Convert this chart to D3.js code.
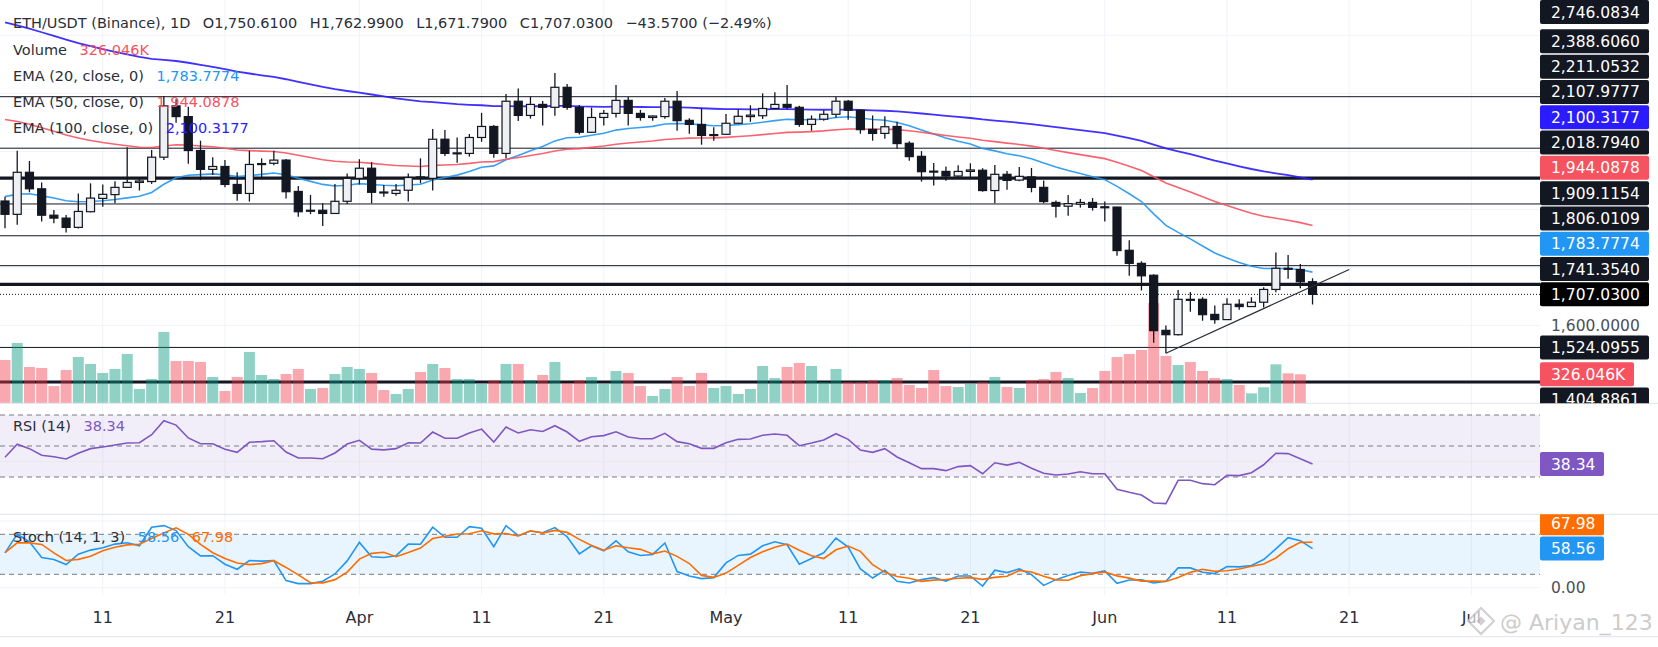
<!DOCTYPE html>
<html>
<head>
<meta charset="utf-8">
<script src="https://cdn.jsdelivr.net/npm/d3@7"></script>
<style>
  html, body { margin: 0; padding: 0; background: #fff; }
  svg { display: block; font-family: "DejaVu Sans", sans-serif; }
</style>
</head>
<body>
<div id="chart"></div>
<script>
// daily candles, first one on this day
const startDay = "2023-03-03";

const opens = [2029,1983,2128,2071,1980,1970,1938,1992,2038,2051,
  2076,2093,2096,2180,2357,2320,2203,2138,2148,2086,
  2055,2155,2159,2170,2062,1995,1997,1986,2028,2107,
  2142,2060,2055,2066,2112,2107,2242,2193,2193,2248,
  2286,2193,2373,2324,2362,2352,2421,2352,2266,2317,
  2331,2376,2331,2317,2320,2373,2307,2293,2255,2259,
  2297,2320,2323,2348,2362,2352,2293,2311,2328,2373,
  2342,2276,2262,2286,2228,2183,2132,2131,2115,2131,
  2135,2065,2121,2101,2112,2076,2024,2011,2018,2024,
  2009,2008,1859,1814,1773,1583,1568,1690,1690,1638,
  1620,1673,1665,1680,1724,1797,1793,1750.61];
const highs = [2044,2202,2167,2093,1998,1981,2055,2090,2086,2097,
  2214,2110,2205,2391,2380,2354,2237,2180,2170,2128,
  2202,2176,2202,2174,2081,2050,2021,2088,2124,2173,
  2163,2084,2088,2124,2176,2277,2274,2248,2260,2333,
  2291,2398,2417,2389,2374,2470,2432,2360,2351,2343,
  2429,2388,2343,2324,2384,2408,2314,2348,2283,2329,
  2345,2359,2400,2404,2429,2357,2324,2342,2388,2377,
  2345,2324,2321,2302,2235,2201,2160,2148,2152,2159,
  2142,2153,2132,2146,2143,2100,2031,2050,2036,2039,
  2027,2009,1894,1821,1776,1600,1722,1715,1697,1669,
  1694,1690,1697,1732,1851,1843,1812,1762.99];
const lows = [1935,1947,2059,1958,1952,1920,1934,1990,2009,2021,
  2075,2065,2088,2170,2299,2157,2101,2119,2076,2030,
  2027,2107,2152,2038,1975,1984,1943,1984,2019,2086,
  2021,2044,2047,2027,2090,2065,2184,2161,2182,2233,
  2178,2176,2305,2313,2289,2323,2344,2258,2265,2289,
  2317,2289,2306,2306,2313,2271,2261,2223,2237,2257,
  2295,2302,2312,2345,2345,2285,2271,2306,2316,2309,
  2261,2237,2244,2209,2168,2096,2082,2099,2105,2108,
  2061,2021,2068,2097,2059,2021,1972,1978,2006,1996,
  1958,1840,1771,1720,1540,1504,1565,1647,1616,1606,
  1619,1654,1664,1662,1714,1761,1728,1671.79];
const closes = [1983,2128,2071,1980,1970,1938,1993,2039,2052,2076,
  2093,2098,2180,2357,2320,2203,2138,2148,2086,2055,
  2155,2158,2170,2061,1992,1997,1986,2028,2107,2142,
  2059,2057,2066,2110,2110,2242,2193,2195,2248,2286,
  2193,2373,2324,2362,2352,2421,2352,2266,2317,2331,
  2376,2331,2317,2322,2373,2306,2293,2255,2258,2297,
  2321,2325,2348,2362,2352,2293,2311,2328,2373,2342,
  2275,2262,2285,2227,2182,2130,2130,2115,2131,2136,
  2065,2121,2100,2114,2076,2027,2011,2020,2024,2007,
  2008,1858,1814,1771,1582,1568,1690,1688,1637,1620,
  1673,1665,1680,1724,1797,1795,1750.6,1707.03];
// volume in thousands, the live bar has no column yet
const volumes = [487,678,408,397,194,374,520,442,341,386,
  554,161,273,801,475,475,464,296,138,296,
  577,318,273,329,386,161,172,329,408,386,
  341,149,105,161,352,442,397,273,273,217,
  262,442,442,262,318,464,228,262,296,217,
  363,341,194,82,161,296,194,341,172,194,
  105,161,419,284,408,453,419,239,386,239,
  239,262,262,284,206,172,374,194,183,217,
  239,296,183,172,262,273,352,284,116,172,
  363,520,554,599,1127,532,430,464,363,284,
  273,206,112,180,438,337,326,null];
const volumeLast = 326.046;

const rsiValues = [42.7,51.1,48.3,44.0,43.1,41.6,45.3,48.3,49.4,50.6,
  51.9,52.1,57.3,66.3,63.5,55.2,51.5,51.5,47.9,45.9,
  52.4,52.8,53.4,46.1,42.3,42.3,41.8,45.5,51.3,53.7,
  48.0,47.5,48.3,52.1,51.9,59.0,55.0,55.0,58.4,60.9,
  52.6,62.2,58.4,60.5,59.4,63.1,59.0,53.0,56.0,56.7,
  59.2,55.8,54.7,54.7,58.2,52.8,51.5,48.5,48.5,52.1,
  54.3,54.5,56.9,57.7,56.9,50.2,51.9,53.9,57.9,54.3,
  47.4,45.9,48.3,42.9,39.2,35.4,35.4,34.1,36.7,37.3,
  32.1,39.2,37.7,39.5,35.6,32.4,31.3,31.9,33.4,32.1,
  32.1,22.1,20.1,18.4,13.2,12.8,27.9,27.9,25.7,25.0,
  31.1,30.9,32.8,37.9,45.3,45.1,41.8,38.34];

const stochK = [52.2,80.4,68.8,45.3,42.2,34.7,50.2,56.3,59.8,65.3,
  67.3,62.8,90.6,93.0,85.5,61.3,47.7,47.9,35.1,27.6,
  40.7,39.7,40.7,10.5,6.0,6.0,9.5,20.5,40.1,67.9,
  46.2,45.3,47.9,65.3,65.0,90.6,75.5,75.5,91.5,89.1,
  61.3,93.0,77.9,85.0,82.4,90.0,76.4,50.7,62.8,55.2,
  70.3,53.7,48.3,49.8,66.9,24.1,17.5,13.5,15.0,37.1,
  48.3,50.2,62.8,68.8,64.3,35.1,43.7,52.2,74.4,60.8,
  28.1,14.4,26.1,9.5,6.9,12.0,15.0,9.9,17.5,17.5,
  2.4,26.1,22.6,28.1,19.6,3.4,12.0,18.1,23.5,21.5,
  25.0,6.4,11.4,11.6,6.9,9.5,29.6,29.6,23.1,21.1,
  31.7,31.2,33.2,42.2,58.2,74.9,70.47,58.56];
const stochDHead = [52.5, 67.3];

// EMA values on the first visible bar (history before it is not shown)
const emaPeriods = [20, 50, 100];
const emaStart = [2044, 2310, 2645];
const emaLast = [1783.7774, 1944.0878, 2100.3177];

const levels = [2746.0834, 2388.6060, 2211.0532, 2107.9777, 2018.7940,
  1909.1154, 1806.0109, 1741.3540, 1524.0955, 1404.8861];
const thickLevels = [2107.9777, 1741.3540, 1404.8861];
const trendBars = [95, 110];
const trendPrices = [1504, 1793];

const priceTicks = [1400, 1600, 1800, 2000, 2200, 2400, 2600];
const xTickDates = ["2023-03-11", "2023-03-21", "2023-04-01", "2023-04-11", "2023-04-21",
  "2023-05-01", "2023-05-11", "2023-05-21", "2023-06-01", "2023-06-11", "2023-06-21", "2023-07-01"];

// ---------------------------------------------------------------
const W = 1658, H = 647;
const plotRight = 1540;
const mainBottom = 403.3;
const rsiTop = 403.3, rsiBottom = 514.3;
const stochTop = 514.3, stochBottom = 595;
const axisLine = 636.7;

const emaColors = ["#2196F3", "#F7525F", "#2B1BFF"];
const dark = "#131722";

const parse = d3.utcParse("%Y-%m-%d");
const day0 = parse(startDay);
const dates = closes.map((d, i) => d3.utcDay.offset(day0, i));

const x = d3.scaleUtc()
  .domain([day0, d3.utcDay.offset(day0, 120)])
  .range([5, 5 + 120 * 12.22]);
const y = d3.scaleLinear().domain([1404.8861, 2388.6060]).range([382, 96.7]);
const yVol = d3.scaleLinear().domain([0, 1127]).range([mainBottom, mainBottom - 100.3]);
const yRsi = d3.scaleLinear().domain([30, 70]).range([477, 415]);
const yStoch = d3.scaleLinear().domain([20, 80]).range([574.3, 534.3]);

function ema(values, period, seed) {
  const k = 2 / (period + 1);
  const out = [seed];
  for (let i = 1; i < values.length; i++) {
    out.push(out[i - 1] + k * (values[i] - out[i - 1]));
  }
  return out;
}

const stochD = stochK.map((v, i) => i < 2 ? stochDHead[i] : (stochK[i - 2] + stochK[i - 1] + v) / 3);

const svg = d3.select("#chart").append("svg")
  .attr("width", W)
  .attr("height", H);

svg.append("rect").attr("width", W).attr("height", H).attr("fill", "#fff");

const defs = svg.append("defs");
defs.append("clipPath").attr("id", "clipMain")
  .append("rect").attr("x", 0).attr("y", 0).attr("width", plotRight).attr("height", mainBottom);
defs.append("clipPath").attr("id", "clipRsi")
  .append("rect").attr("x", 0).attr("y", rsiTop).attr("width", plotRight).attr("height", rsiBottom - rsiTop);
defs.append("clipPath").attr("id", "clipStoch")
  .append("rect").attr("x", 0).attr("y", stochTop).attr("width", plotRight).attr("height", stochBottom - stochTop);
defs.append("clipPath").attr("id", "clipAxisMain")
  .append("rect").attr("x", plotRight).attr("y", 0).attr("width", W - plotRight).attr("height", mainBottom);
defs.append("clipPath").attr("id", "clipAxisStoch")
  .append("rect").attr("x", plotRight).attr("y", stochTop).attr("width", W - plotRight).attr("height", stochBottom - stochTop);

// grid
const tickDates = xTickDates.map(parse);
svg.append("g")
  .selectAll("line")
  .data(tickDates)
  .enter()
  .append("line")
  .attr("x1", d => x(d)).attr("x2", d => x(d))
  .attr("y1", 0).attr("y2", stochBottom)
  .attr("stroke", "#f0f3fa");

svg.append("g")
  .attr("clip-path", "url(#clipMain)")
  .selectAll("line")
  .data(priceTicks)
  .enter()
  .append("line")
  .attr("x1", 0).attr("x2", plotRight)
  .attr("y1", d => y(d)).attr("y2", d => y(d))
  .attr("stroke", "#f0f3fa");

// ---------------- main pane ----------------
const main = svg.append("g").attr("clip-path", "url(#clipMain)");

main.append("g")
  .selectAll("line")
  .data(levels)
  .enter()
  .append("line")
  .attr("x1", 0).attr("x2", plotRight)
  .attr("y1", d => y(d)).attr("y2", d => y(d))
  .attr("stroke", dark)
  .attr("stroke-width", d => thickLevels.includes(d) ? 3.2 : 1);

const lastClose = closes[closes.length - 1];
main.append("line")
  .attr("x1", 0).attr("x2", plotRight)
  .attr("y1", y(lastClose)).attr("y2", y(lastClose))
  .attr("stroke", dark)
  .attr("stroke-dasharray", "1,2");

// volume columns
main.append("g")
  .selectAll("rect")
  .data(volumes.map((v, i) => ({v, i})).filter(d => d.v != null))
  .enter()
  .append("rect")
  .attr("x", d => x(dates[d.i]) - 5.5)
  .attr("width", 11)
  .attr("y", d => yVol(d.v))
  .attr("height", d => mainBottom - yVol(d.v))
  .attr("fill", d => closes[d.i] >= opens[d.i] ? "rgba(8,153,129,0.45)" : "rgba(242,54,69,0.43)");

// EMA lines
const line = d3.line().x((d, i) => x(dates[i])).y(d => y(d)).curve(d3.curveLinear);
emaPeriods.forEach((p, k) => {
  const vals = ema(closes, p, emaStart[k]);
  main.append("path")
    .attr("d", line(vals))
    .attr("fill", "none")
    .attr("stroke", emaColors[k])
    .attr("stroke-width", k === 2 ? 1.8 : 1.6)
    .attr("stroke-opacity", 0.9);
});

// candles
const candles = main.append("g")
  .selectAll("g")
  .data(closes.map((c, i) => ({o: opens[i], h: highs[i], l: lows[i], c, i})))
  .enter()
  .append("g");

candles.append("line")
  .attr("x1", d => x(dates[d.i])).attr("x2", d => x(dates[d.i]))
  .attr("y1", d => y(d.h)).attr("y2", d => y(d.l))
  .attr("stroke", dark)
  .attr("stroke-width", 1.3);

candles.append("rect")
  .attr("x", d => x(dates[d.i]) - 4)
  .attr("width", 8)
  .attr("y", d => y(Math.max(d.o, d.c)))
  .attr("height", d => Math.max(1, Math.abs(y(d.o) - y(d.c))))
  .attr("fill", d => d.c >= d.o ? "#eef0f4" : dark)
  .attr("stroke", dark)
  .attr("stroke-width", 1.2);

// trend line
main.append("line")
  .attr("x1", x(d3.utcDay.offset(day0, trendBars[0])))
  .attr("y1", y(trendPrices[0]))
  .attr("x2", x(d3.utcDay.offset(day0, trendBars[1])))
  .attr("y2", y(trendPrices[1]))
  .attr("stroke", "#2a2e39")
  .attr("stroke-width", 1.2);

// ---------------- RSI pane ----------------
const rsiG = svg.append("g").attr("clip-path", "url(#clipRsi)");
rsiG.append("rect")
  .attr("x", 0).attr("width", plotRight)
  .attr("y", yRsi(70)).attr("height", yRsi(30) - yRsi(70))
  .attr("fill", "rgba(126,87,194,0.1)");
rsiG.append("line")
  .attr("x1", 0).attr("x2", plotRight)
  .attr("y1", yRsi(40)).attr("y2", yRsi(40))
  .attr("stroke", "#e9e9f0");
rsiG.append("g")
  .selectAll("line")
  .data([70, 50, 30])
  .enter()
  .append("line")
  .attr("x1", 0).attr("x2", plotRight)
  .attr("y1", d => yRsi(d)).attr("y2", d => yRsi(d))
  .attr("stroke", "#787B86")
  .attr("stroke-dasharray", "5,4");
rsiG.append("path")
  .attr("d", d3.line().x((d, i) => x(dates[i])).y(d => yRsi(d))(rsiValues))
  .attr("fill", "none")
  .attr("stroke", "#7E57C2")
  .attr("stroke-width", 1.6);

// ---------------- Stoch pane ----------------
const stG = svg.append("g").attr("clip-path", "url(#clipStoch)");
stG.append("rect")
  .attr("x", 0).attr("width", plotRight)
  .attr("y", yStoch(80)).attr("height", yStoch(20) - yStoch(80))
  .attr("fill", "rgba(33,150,243,0.1)");
stG.append("g")
  .selectAll("line")
  .data([100, 0])
  .enter()
  .append("line")
  .attr("x1", 0).attr("x2", plotRight)
  .attr("y1", d => yStoch(d)).attr("y2", d => yStoch(d))
  .attr("stroke", "#f0f3fa");
stG.append("g")
  .selectAll("line")
  .data([80, 20])
  .enter()
  .append("line")
  .attr("x1", 0).attr("x2", plotRight)
  .attr("y1", d => yStoch(d)).attr("y2", d => yStoch(d))
  .attr("stroke", "#787B86")
  .attr("stroke-dasharray", "5,4");
const stLine = d3.line().x((d, i) => x(dates[i])).y(d => yStoch(d));
stG.append("path").attr("d", stLine(stochK))
  .attr("fill", "none").attr("stroke", "#2196F3").attr("stroke-width", 1.6);
stG.append("path").attr("d", stLine(stochD))
  .attr("fill", "none").attr("stroke", "#FF6D00").attr("stroke-width", 1.6);

// pane borders
svg.append("g")
  .selectAll("line")
  .data([rsiTop, stochTop, axisLine])
  .enter()
  .append("line")
  .attr("x1", 0).attr("x2", W)
  .attr("y1", d => d).attr("y2", d => d)
  .attr("stroke", "#e0e3eb");

// ---------------- x axis ----------------
const fmtDay = d3.utcFormat("%-d"), fmtMonth = d3.utcFormat("%b");
svg.append("g")
  .selectAll("text")
  .data(tickDates)
  .enter()
  .append("text")
  .attr("x", d => x(d))
  .attr("y", 622.5)
  .attr("text-anchor", "middle")
  .attr("font-size", 16)
  .attr("fill", "#2a2e39")
  .text(d => d.getUTCDate() === 1 ? fmtMonth(d) : fmtDay(d));

// ---------------- right axis ----------------
const fmtPrice = d3.format(",.4f");
const boxH = 24, pitch = 25.3;

function stack(items, anchor) {
  items.sort((a, b) => a.y - b.y);
  const ai = items.indexOf(anchor);
  anchor.ly = anchor.y;
  for (let i = ai - 1; i >= 0; i--) items[i].ly = Math.min(items[i].y, items[i + 1].ly - pitch);
  for (let i = ai + 1; i < items.length; i++) items[i].ly = Math.max(items[i].y, items[i - 1].ly + pitch);
  if (items[0].ly < boxH / 2) items[0].ly = boxH / 2;
  return items;
}

function drawBoxes(g, items) {
  const b = g.selectAll("g.lbl").data(items).enter().append("g").attr("class", "lbl");
  b.append("rect")
    .attr("x", plotRight)
    .attr("y", d => d.ly - boxH / 2)
    .attr("width", d => d.w)
    .attr("height", boxH)
    .attr("rx", 2)
    .attr("fill", d => d.bg);
  b.append("text")
    .attr("x", plotRight + 11)
    .attr("y", d => d.ly + 5.5)
    .attr("font-size", 15.5)
    .attr("fill", "#fff")
    .text(d => d.text);
}

// tick labels are only shown where no value box covers them
function drawTicks(g, ticks, scale, fmt, boxes, lo, hi) {
  g.append("g")
    .selectAll("text")
    .data(ticks.filter(t => {
      const ty = scale(t);
      return ty > lo + 6 && ty < hi - 6 && !boxes.some(b => Math.abs(b.ly - ty) < 18);
    }))
    .enter()
    .append("text")
    .attr("x", plotRight + 11)
    .attr("y", d => scale(d) + 5.5)
    .attr("font-size", 15.5)
    .attr("fill", "#4c4f5a")
    .text(d => fmt(d));
}

const axisMain = svg.append("g").attr("clip-path", "url(#clipAxisMain)");
const closeItem = {y: y(lastClose), text: fmtPrice(lastClose), bg: "#000", w: 109};
const mainItems = levels.map(v => ({y: y(v), text: fmtPrice(v), bg: dark, w: 109}));
emaLast.forEach((v, k) => mainItems.push({y: y(v), text: fmtPrice(v), bg: emaColors[k], w: 109}));
mainItems.push({y: yVol(volumeLast), text: d3.format(".3f")(volumeLast) + "K", bg: "#F7525F", w: 94});
mainItems.push(closeItem);
stack(mainItems, closeItem);
drawTicks(axisMain, priceTicks, y, fmtPrice, mainItems, 0, mainBottom);
drawBoxes(axisMain, mainItems);

// RSI value box
const rsiLast = rsiValues[rsiValues.length - 1];
drawBoxes(svg.append("g"), [{ly: yRsi(rsiLast), text: rsiLast.toFixed(2), bg: "#7E57C2", w: 64}]);

// Stoch value boxes
const axisStoch = svg.append("g").attr("clip-path", "url(#clipAxisStoch)");
const kLast = stochK[stochK.length - 1], dLast = stochD[stochD.length - 1];
const kItem = {y: yStoch(kLast), text: kLast.toFixed(2), bg: "#2196F3", w: 64};
const dItem = {y: yStoch(dLast), text: dLast.toFixed(2), bg: "#FF6D00", w: 64};
const stochItems = stack([kItem, dItem], kItem);
drawTicks(axisStoch, [100, 0], yStoch, d => d.toFixed(2), stochItems, stochTop - 10, stochBottom + 10);
drawBoxes(axisStoch, stochItems);

// ---------------- legends ----------------
function legendLine(yc, parts) {
  let cx = 13;
  parts.forEach(p => {
    const t = svg.append("text")
      .attr("x", cx)
      .attr("y", yc + 5)
      .attr("font-size", 14.5)
      .attr("fill", p.color || "#2a2e39")
      .text(p.text);
    cx += t.node().getComputedTextLength() + 12.5;
  });
}

const n = closes.length - 1;
const chg = closes[n] - closes[n - 1];
const fmtSigned = v => (v < 0 ? "\u2212" : "+") + d3.format(",.4f")(Math.abs(v));
legendLine(23, [
  {text: "ETH/USDT (Binance), 1D"},
  {text: "O" + fmtPrice(opens[n])},
  {text: "H" + fmtPrice(highs[n])},
  {text: "L" + fmtPrice(lows[n])},
  {text: "C" + fmtPrice(closes[n])},
  {text: fmtSigned(chg) + " (" + (chg < 0 ? "\u2212" : "+") + Math.abs(chg / closes[n - 1] * 100).toFixed(2) + "%)"}
]);
legendLine(49.5, [{text: "Volume"}, {text: d3.format(".3f")(volumeLast) + "K", color: "#F7525F"}]);
emaPeriods.forEach((p, k) => {
  legendLine(75.8 + k * 26.3, [
    {text: "EMA (" + p + ", close, 0)"},
    {text: d3.format(",.4f")(emaLast[k]), color: emaColors[k]}
  ]);
});
legendLine(rsiTop + 22.5, [{text: "RSI (14)"}, {text: rsiLast.toFixed(2), color: "#7E57C2"}]);
legendLine(stochTop + 22.5, [
  {text: "Stoch (14, 1, 3)"},
  {text: kLast.toFixed(2), color: "#2196F3"},
  {text: dLast.toFixed(2), color: "#FF6D00"}
]);

// ---------------- watermark ----------------
const wm = svg.append("g").attr("opacity", 0.85);
const lx = 1481, ly = 621;
wm.append("path")
  .attr("d", `M${lx},${ly - 13} L${lx + 13},${ly} L${lx},${ly + 13} L${lx - 13},${ly} Z`)
  .attr("fill", "rgba(255,255,255,0.75)")
  .attr("stroke", "#c8c8c8")
  .attr("stroke-width", 2);
wm.append("path")
  .attr("d", `M${lx},${ly - 4.5} L${lx + 4.5},${ly} L${lx},${ly + 4.5} L${lx - 4.5},${ly} Z`)
  .attr("fill", "#c8c8c8");
wm.append("text")
  .attr("x", 1500)
  .attr("y", 630)
  .attr("font-size", 22)
  .attr("fill", "#c4c4c4")
  .text("@ Ariyan_123");
</script>
</body>
</html>
